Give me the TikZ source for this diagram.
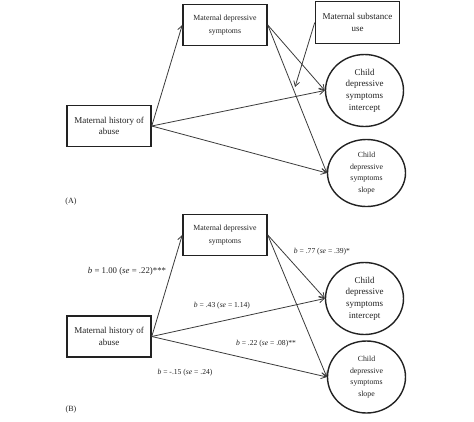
\documentclass[tikz,border=0pt]{standalone}
\usepackage{fontspec}
\setmainfont{Liberation Serif}
\usepackage{xcolor}
\definecolor{ink}{HTML}{222222}
\definecolor{edge}{HTML}{3a3a3a}
\usepackage{tikz}
\usetikzlibrary{
  arrows.meta,
  positioning,
  shapes.geometric
}

\begin{document}
\begin{tikzpicture}[
  x=1pt, y=-1pt,
  varbox/.style={rectangle, draw=ink, line width=1.5pt, minimum width=84pt, minimum height=41pt, align=center, text=ink, font=\fontsize{9}{11.7}\selectfont},
  smallbox/.style={varbox, font=\fontsize{7.8}{12.3}\selectfont},
  outcome/.style={ellipse, draw=ink, line width=1.4pt, minimum width=78pt, minimum height=72pt, align=center, text=ink, inner sep=0pt, font=\fontsize{9}{11.7}\selectfont},
  arr/.style={-{Straight Barb[length=5pt, width=6pt]}, line width=0.8pt, edge},
  coef/.style={text=ink, inner sep=1pt, font=\fontsize{7.6}{9}\selectfont},
  panel/.style={text=ink, font=\fontsize{8}{10}\selectfont},
]
\useasboundingbox (0,0) rectangle (474,421);

% panel A
\node[varbox] (abuseA) at (109,126) {Maternal history of\\abuse};
\node[smallbox] (depA) at (225,25) {Maternal depressive\\symptoms};
\node[varbox, minimum height=42pt] (subA) at (357.5,22.5) {Maternal substance\\use};
\node[outcome] (intA) at (364.5,90.5) {Child\\depressive\\symptoms\\intercept};
\node[outcome, minimum height=67pt, font=\fontsize{7.8}{11.7}\selectfont] (slopeA) at (366.5,173) {Child\\depressive\\symptoms\\slope};
\node[panel] (labA) at (71,202) {(A)};
\coordinate (modA) at (295,87);

\draw[arr] (abuseA.east) -- (depA.west);
\draw[arr] (abuseA.east) -- (intA.west);
\draw[arr] (abuseA.east) -- (slopeA.west);
\draw[arr] (depA.east) -- (intA.west);
\draw[arr] (depA.east) -- (slopeA.west);
\draw[arr] (subA.west) -- (modA);

% panel B
\node[varbox] (abuseB) at (109,336.5) {Maternal history of\\abuse};
\node[smallbox] (depB) at (225,235) {Maternal depressive\\symptoms};
\node[outcome] (intB) at (364.5,298.5) {Child\\depressive\\symptoms\\intercept};
\node[outcome, font=\fontsize{7.8}{11.7}\selectfont] (slopeB) at (366.5,377) {Child\\depressive\\symptoms\\slope};
\node[panel] (labB) at (71,410) {(B)};

\draw[arr] (abuseB.east) -- (depB.west);
\draw[arr] (abuseB.east) -- (intB.west);
\draw[arr] (abuseB.east) -- (slopeB.west);
\draw[arr] (depB.east) -- (intB.west);
\draw[arr] (depB.east) -- (slopeB.west);

\node[coef, font=\fontsize{8.8}{10}\selectfont] (bdep) at (127,271) {\textit{b} = 1.00 (\textit{se} = .22)***};
\node[coef] (bint) at (222,306) {\textit{b} = .43 (\textit{se} = 1.14)};
\node[coef] (bslope) at (185,373) {\textit{b} = -.15 (\textit{se} = .24)};
\node[coef] (bdepint) at (322,252) {\textit{b} = .77 (\textit{se} = .39)*};
\node[coef] (bdepslope) at (266,344) {\textit{b} = .22 (\textit{se} = .08)**};

\end{tikzpicture}
\end{document}
